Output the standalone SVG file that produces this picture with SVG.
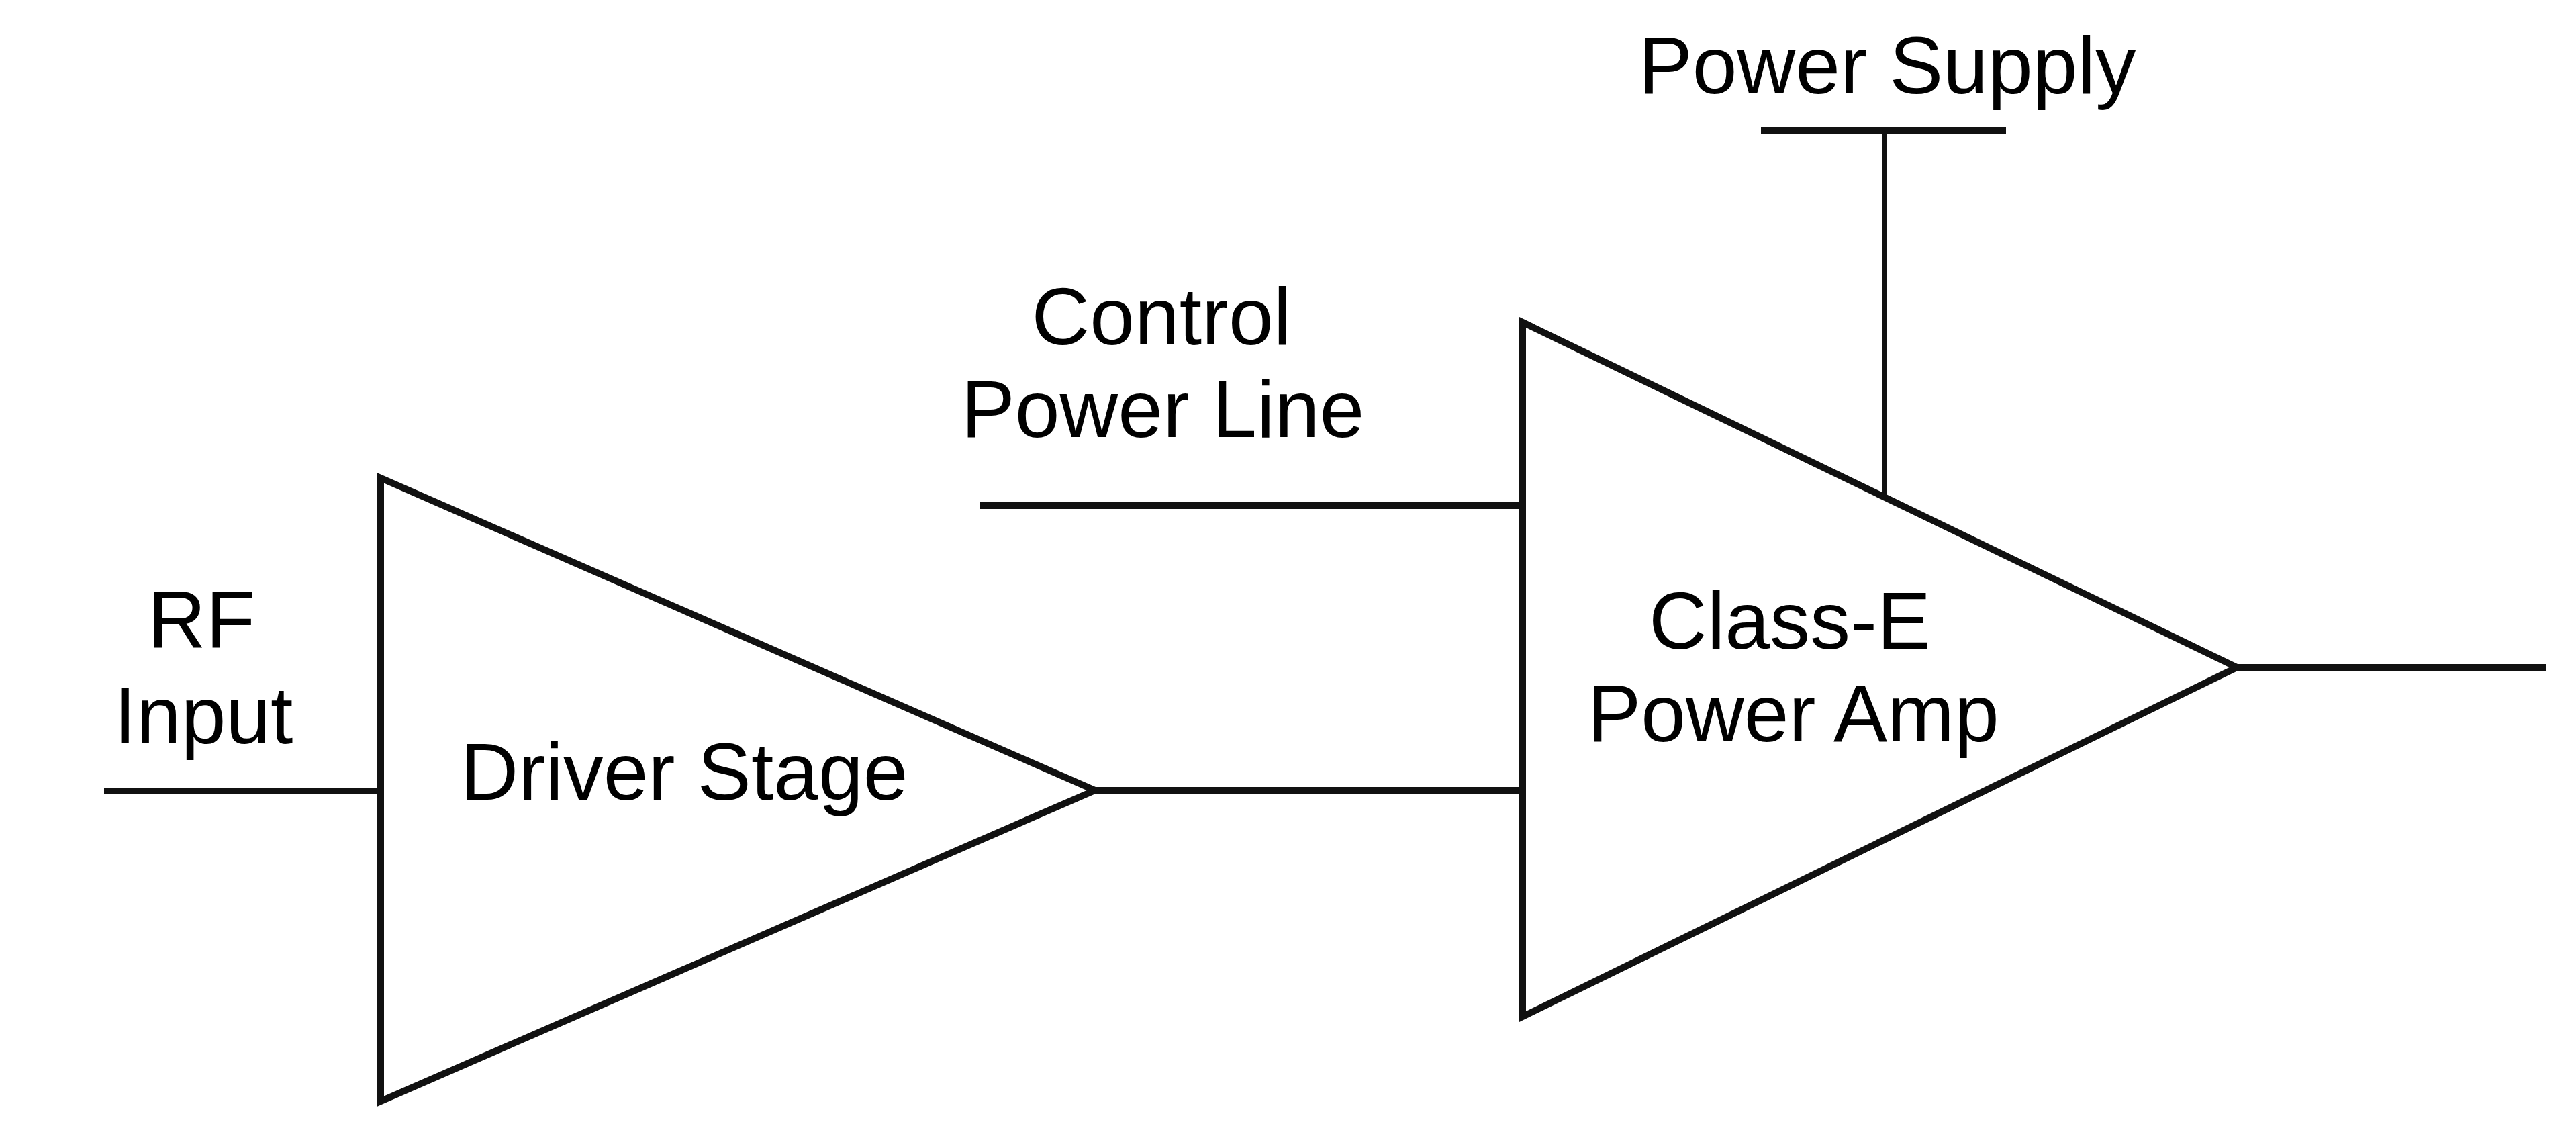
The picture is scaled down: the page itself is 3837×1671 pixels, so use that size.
<svg xmlns="http://www.w3.org/2000/svg" width="3837" height="1671" viewBox="0 0 3837 1671">
<style>
.bg{fill:#ffffff}
.amp{fill:#ffffff;stroke:#111111;stroke-width:10;stroke-linejoin:miter}
.wire{fill:none;stroke:#111111;stroke-width:10;stroke-linecap:butt}
.thin{stroke-width:8}
.lbl{font-family:"Liberation Sans",Arial,sans-serif;font-size:120px;fill:#000000;text-anchor:middle}
</style>
<rect class="bg" x="0" y="0" width="3837" height="1671"/>
<g id="connectors">
<line class="wire" x1="155" y1="1178" x2="567" y2="1178"/>
<line class="wire" x1="1631" y1="1177" x2="2268" y2="1177"/>
<line class="wire" x1="1460" y1="753" x2="2268" y2="753"/>
<line class="wire" x1="3332" y1="994" x2="3793" y2="994"/>
<line class="wire" x1="2623" y1="194" x2="2988" y2="194"/>
<line class="wire thin" x1="2807" y1="194" x2="2807" y2="758"/>
</g>
<g id="rf-input">
<text class="lbl" x="300" y="965">RF</text>
<text class="lbl" x="303" y="1107">Input</text>
</g>
<g id="driver-stage">
<polygon class="amp" points="567,712 567,1640 1631,1177"/>
<text class="lbl" x="1019" y="1191">Driver Stage</text>
</g>
<g id="control-power-line">
<text class="lbl" x="1730" y="513">Control</text>
<text class="lbl" x="1732" y="651">Power Line</text>
</g>
<g id="power-supply">
<text class="lbl" x="2811" y="139">Power Supply</text>
</g>
<g id="class-e-power-amp">
<polygon class="amp" points="2268,480 2268,1514 3332,994"/>
<text class="lbl" x="2666" y="966">Class-E</text>
<text class="lbl" x="2671" y="1104">Power Amp</text>
</g>
</svg>
